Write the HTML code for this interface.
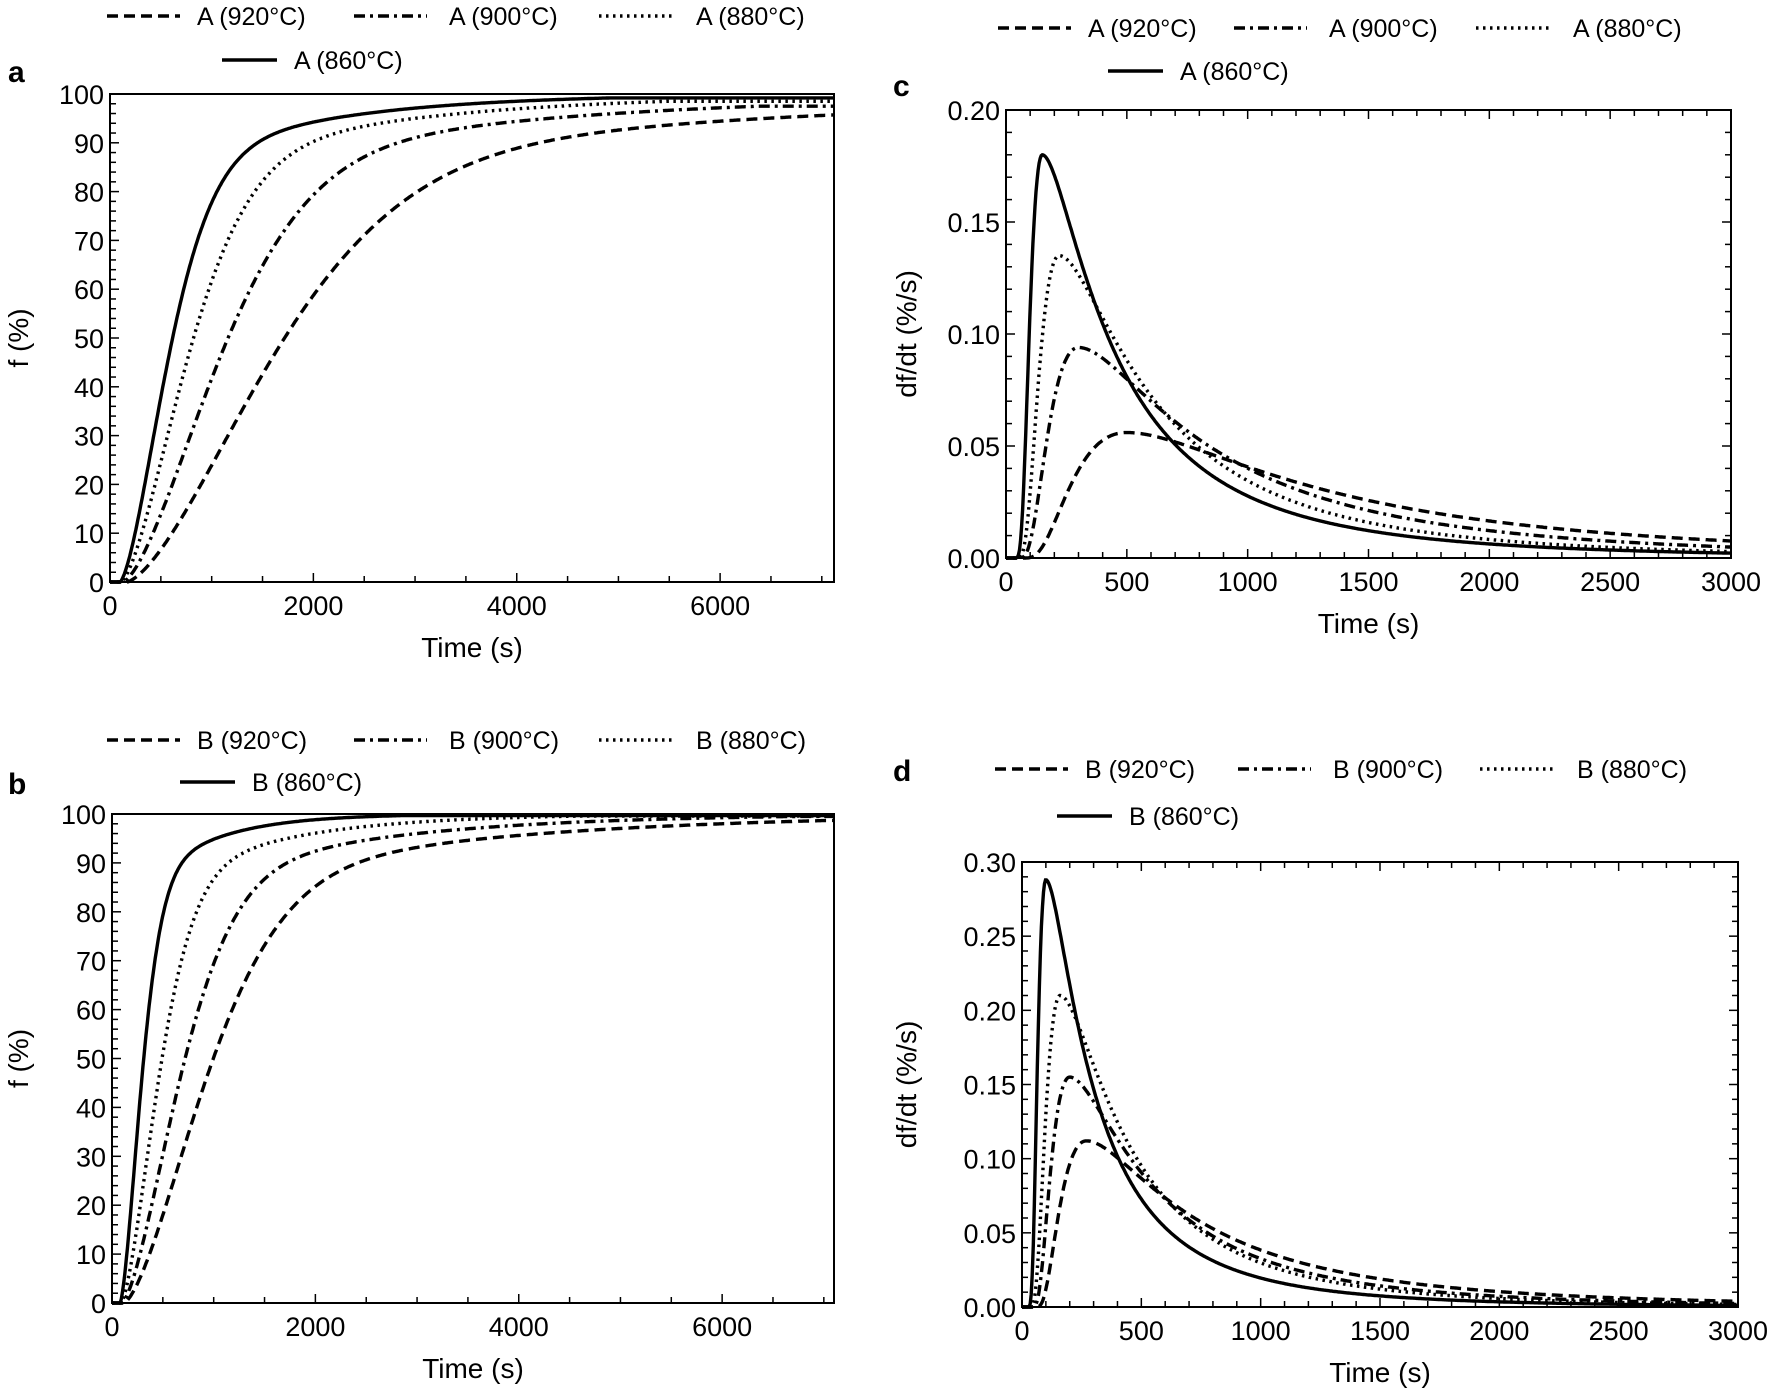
<!DOCTYPE html>
<html><head><meta charset="utf-8">
<style>
html,body{margin:0;padding:0;background:#fff;}
svg{display:block;}
text{font-family:"Liberation Sans",Arial,sans-serif;fill:#000;}
</style></head>
<body>
<svg id="s" width="1772" height="1397" viewBox="0 0 1772 1397" xmlns="http://www.w3.org/2000/svg"></svg>
<script>
const S=document.getElementById('s');
let out='';
const DASH={d:'11,6',dd:'11,5,3,5',o:'2.5,4.5',s:''};
function line(x1,y1,x2,y2,w){out+=`<line x1="${x1}" y1="${y1}" x2="${x2}" y2="${y2}" stroke="#000" stroke-width="${w||1.5}"/>`;}
function txt(x,y,t,size,anchor,extra){out+=`<text x="${x}" y="${y}" font-size="${size}" text-anchor="${anchor||'start'}" ${extra||''}>${t}</text>`;}
function panel(P){
  const {L,R,T,B,xmax,ymax,xmaj,xmin,ymaj,ymin,fmt,xl,yl,allSides}=P;
  const X=v=>L+(R-L)*v/xmax, Y=v=>B-(B-T)*v/ymax;
  P.series.forEach(sr=>{
    let d='';
    for(let i=0;i<=700;i++){const t=xmax*i/700;let v=sr.f(t);if(v<0)v=0;if(v>ymax)v=ymax;d+=(i?'L':'M')+X(t).toFixed(1)+','+Y(v).toFixed(1);}
    out+=`<path d="${d}" fill="none" stroke="#000" stroke-width="3.4" ${DASH[sr.st]?`stroke-dasharray="${DASH[sr.st]}"`:''}/>`;
  });
  out+=`<rect x="${L}" y="${T}" width="${R-L}" height="${B-T}" fill="none" stroke="#000" stroke-width="2"/>`;
  for(let v=0;v<=xmax+1e-9;v+=xmin){const maj=Math.abs(v/xmaj-Math.round(v/xmaj))<1e-6;const x=X(v);
    line(x,B,x,B-(maj?9:6));
    if(allSides)line(x,T,x,T+(maj?9:6));
    if(maj)txt(x,B+33,String(Math.round(v)),27,'middle');}
  for(let v=0;v<=ymax+1e-9;v+=ymin){const maj=Math.abs(v/ymaj-Math.round(v/ymaj))<1e-6;const y=Y(v);
    line(L,y,L+(maj?9:6),y);
    if(allSides)line(R,y,R-(maj?9:6),y);
    if(maj)txt(L-6,y+10,fmt(v),27,'end');}
  txt((L+R)/2,B+75,'Time (s)',28,'middle');
  txt(P.ylx,(T+B)/2,yl,28,'middle',`transform="rotate(-90 ${P.ylx} ${(T+B)/2})"`);
}
function legend(items){items.forEach(it=>{
  out+=`<line x1="${it.x1}" y1="${it.y}" x2="${it.x2}" y2="${it.y}" stroke="#000" stroke-width="3.4" ${DASH[it.st]?`stroke-dasharray="${DASH[it.st]}"`:''}/>`;
  txt(it.tx,it.y+9,it.t,25);});}
// mixture model: 0.8 fast JMAK (n=1.6) + 0.2 slow exponential
function mix(t0,s,fm){return t=>{if(t<=t0)return 0;const u=(t-t0)/s;
  const j1=1-Math.exp(-Math.pow(u/591,1.6));const j2=1-Math.exp(-u/1500);
  return Math.min(fm,100*(0.8*j1+0.2*j2));};}
function rate(t0,tp,A,sl,sr){return t=>{if(t<=t0)return 0;const z=Math.log((t-t0)/(tp-t0));const s=z<0?sl:sr;return A*Math.exp(-z*z/(2*s*s));};}
const pct=v=>String(Math.round(v));
const f2=v=>v.toFixed(2);
panel({L:110,R:834,T:94,B:582,xmax:7120,ymax:100,xmaj:2000,xmin:500,ymaj:10,ymin:2,fmt:pct,yl:'f (%)',ylx:28,
 series:[{st:'d',f:mix(170,3.0,96.5)},{st:'dd',f:mix(130,2.0,97.5)},{st:'o',f:mix(110,1.38,98.5)},{st:'s',f:mix(100,1.0,99.2)}]});
panel({L:112,R:834,T:814,B:1303,xmax:7100,ymax:100,xmaj:2000,xmin:500,ymaj:10,ymin:2,fmt:pct,yl:'f (%)',ylx:28,
 series:[{st:'d',f:mix(120,1.7,99.5)},{st:'dd',f:mix(100,1.2,99.5)},{st:'o',f:mix(90,0.78,99.6)},{st:'s',f:mix(80,0.45,99.7)}]});
panel({L:1006,R:1731,T:110,B:558,xmax:3000,ymax:0.2,xmaj:500,xmin:100,ymaj:0.05,ymin:0.01,fmt:f2,yl:'df/dt  (%/s)',ylx:916,allSides:true,
 series:[{st:'d',f:rate(60,500,0.056,0.72,0.95)},{st:'dd',f:rate(40,300,0.094,0.65,1.0)},{st:'o',f:rate(35,220,0.135,0.6,1.0)},{st:'s',f:rate(30,150,0.18,0.55,1.08)}]});
panel({L:1022,R:1738,T:862,B:1307,xmax:3000,ymax:0.3,xmaj:500,xmin:100,ymaj:0.05,ymin:0.01,fmt:f2,yl:'df/dt  (%/s)',ylx:916,allSides:true,
 series:[{st:'d',f:rate(50,270,0.112,0.7,1.0)},{st:'dd',f:rate(35,200,0.155,0.65,1.0)},{st:'o',f:rate(25,160,0.21,0.6,1.0)},{st:'s',f:rate(20,100,0.288,0.55,1.08)}]});
function leg4(p,y1,y2,xs,x4){legend([
 {st:'d',x1:xs[0],x2:xs[0]+73,tx:xs[0]+90,y:y1,t:p+' (920°C)'},
 {st:'dd',x1:xs[1],x2:xs[1]+73,tx:xs[1]+95,y:y1,t:p+' (900°C)'},
 {st:'o',x1:xs[2],x2:xs[2]+73,tx:xs[2]+97,y:y1,t:p+' (880°C)'},
 {st:'s',x1:x4,x2:x4+55,tx:x4+72,y:y2,t:p+' (860°C)'}]);}
leg4('A',16,60,[107,354,599],222);
leg4('A',28,71,[998,1234,1476],1108);
leg4('B',740,782,[107,354,599],180);
leg4('B',769,816,[995,1238,1480],1057);
txt(8,82,'a',30,'start','font-weight="bold"');
txt(893,96,'c',30,'start','font-weight="bold"');
txt(8,794,'b',30,'start','font-weight="bold"');
txt(893,781,'d',30,'start','font-weight="bold"');
S.innerHTML=out;
</script>
</body></html>
